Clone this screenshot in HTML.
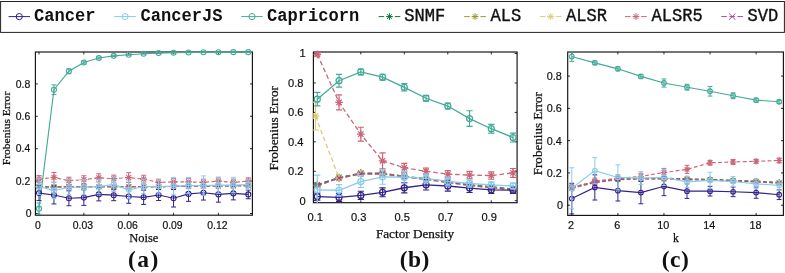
<!DOCTYPE html>
<html lang="en"><head><meta charset="utf-8"><title>Frobenius Error</title>
<style>html,body{margin:0;padding:0;background:#fff}svg{display:block}</style></head>
<body>
<svg width="785" height="273" viewBox="0 0 785 273">
<rect width="785" height="273" fill="#fff"/>
<rect x="0.6" y="1.5" width="783.8" height="30.9" fill="#fff" stroke="#222" stroke-width="1"/>
<path d="M8.5 16.6H30" stroke="#332288" stroke-width="1"/>
<circle cx="19.25" cy="16.6" r="3.1" fill="none" stroke="#332288" stroke-width="1.0"/>
<text transform="translate(34 21.3) scale(1 1.09)" font-family='"Liberation Mono","Courier New",monospace' font-size="17.1" font-weight="bold" fill="#111">Cancer</text>
<path d="M114.2 16.6H135.9" stroke="#88CCEE" stroke-width="1"/>
<circle cx="125.05" cy="16.6" r="3.1" fill="none" stroke="#88CCEE" stroke-width="1.0"/>
<text transform="translate(140.4 21.3) scale(1 1.09)" font-family='"Liberation Mono","Courier New",monospace' font-size="17.1" font-weight="bold" fill="#111">CancerJS</text>
<path d="M241.3 16.6H262.7" stroke="#44AA99" stroke-width="1"/>
<circle cx="252" cy="16.6" r="3.1" fill="none" stroke="#44AA99" stroke-width="1.0"/>
<text transform="translate(267 21.3) scale(1 1.09)" font-family='"Liberation Mono","Courier New",monospace' font-size="17.1" font-weight="bold" fill="#111">Capricorn</text>
<path d="M378.6 16.6H400.3" stroke="#117733" stroke-width="1" stroke-dasharray="5.5 2.6"/>
<path d="M386.05 16.6h6.8M389.45 13.2v6.8M387 14.15l4.9 4.9M387 19.05l4.9 -4.9" stroke="#117733" stroke-width="1.0" fill="none"/>
<text transform="translate(404.2 21.3) scale(1 1.09)" font-family='"Liberation Mono","Courier New",monospace' font-size="17.1" stroke="#111" stroke-width="0.35" fill="#111">SNMF</text>
<path d="M464.2 16.6H485.9" stroke="#999933" stroke-width="1" stroke-dasharray="5.5 2.6"/>
<path d="M471.65 16.6h6.8M475.05 13.2v6.8M472.6 14.15l4.9 4.9M472.6 19.05l4.9 -4.9" stroke="#999933" stroke-width="1.0" fill="none"/>
<text transform="translate(490.4 21.3) scale(1 1.09)" font-family='"Liberation Mono","Courier New",monospace' font-size="17.1" stroke="#111" stroke-width="0.35" fill="#111">ALS</text>
<path d="M539.9 16.6H561.5" stroke="#DDCC77" stroke-width="1" stroke-dasharray="5.5 2.6"/>
<path d="M547.3 16.6h6.8M550.7 13.2v6.8M548.25 14.15l4.9 4.9M548.25 19.05l4.9 -4.9" stroke="#DDCC77" stroke-width="1.0" fill="none"/>
<text transform="translate(566 21.3) scale(1 1.09)" font-family='"Liberation Mono","Courier New",monospace' font-size="17.1" stroke="#111" stroke-width="0.35" fill="#111">ALSR</text>
<path d="M625 16.6H646.9" stroke="#CC6677" stroke-width="1" stroke-dasharray="5.5 2.6"/>
<path d="M632.55 16.6h6.8M635.95 13.2v6.8M633.5 14.15l4.9 4.9M633.5 19.05l4.9 -4.9" stroke="#CC6677" stroke-width="1.0" fill="none"/>
<text transform="translate(651.4 21.3) scale(1 1.09)" font-family='"Liberation Mono","Courier New",monospace' font-size="17.1" stroke="#111" stroke-width="0.35" fill="#111">ALSR5</text>
<path d="M721.3 16.6H743.2" stroke="#AA4499" stroke-width="1" stroke-dasharray="5.5 2.6"/>
<path d="M729.12 13.47l6.26 6.26M729.12 19.73l6.26 -6.26" stroke="#AA4499" stroke-width="1.0" fill="none"/>
<text transform="translate(747.4 21.3) scale(1 1.09)" font-family='"Liberation Mono","Courier New",monospace' font-size="17.1" stroke="#111" stroke-width="0.35" fill="#111">SVD</text>
<clipPath id="c1"><rect x="31.4" y="46" width="225" height="169.8"/></clipPath>
<path d="M39 215.2v-2.4M39 52v2.4M83.85 215.2v-2.4M83.85 52v2.4M128.7 215.2v-2.4M128.7 52v2.4M173.55 215.2v-2.4M173.55 52v2.4M218.4 215.2v-2.4M218.4 52v2.4M35.4 213.5h2.4M252.4 213.5h-2.4M35.4 181.1h2.4M252.4 181.1h-2.4M35.4 148.7h2.4M252.4 148.7h-2.4M35.4 116.3h2.4M252.4 116.3h-2.4M35.4 83.9h2.4M252.4 83.9h-2.4" stroke="#111" stroke-width="0.9" fill="none"/>
<rect x="35.4" y="52" width="217" height="163.2" fill="none" stroke="#111" stroke-width="1.15"/>
<g clip-path="url(#c1)"><polyline points="39,186.77 53.95,186.93 68.9,186.93 83.85,186.77 98.8,186.77 113.75,186.77 128.7,186.77 143.65,186.61 158.6,186.61 173.55,186.45 188.5,186.28 203.45,186.12 218.4,185.96 233.35,185.8 248.3,185.64" fill="none" stroke="#117733" stroke-width="1.15" stroke-dasharray="3.8 2.4"/><path d="M39 185.96V187.58M36.5 185.96h5M36.5 187.58h5M53.95 186.12V187.74M51.45 186.12h5M51.45 187.74h5M68.9 186.12V187.74M66.4 186.12h5M66.4 187.74h5M83.85 185.96V187.58M81.35 185.96h5M81.35 187.58h5M98.8 185.96V187.58M96.3 185.96h5M96.3 187.58h5M113.75 185.96V187.58M111.25 185.96h5M111.25 187.58h5M128.7 185.96V187.58M126.2 185.96h5M126.2 187.58h5M143.65 185.8V187.42M141.15 185.8h5M141.15 187.42h5M158.6 185.8V187.42M156.1 185.8h5M156.1 187.42h5M173.55 185.64V187.26M171.05 185.64h5M171.05 187.26h5M188.5 185.47V187.09M186 185.47h5M186 187.09h5M203.45 185.31V186.93M200.95 185.31h5M200.95 186.93h5M218.4 185.15V186.77M215.9 185.15h5M215.9 186.77h5M233.35 184.99V186.61M230.85 184.99h5M230.85 186.61h5M248.3 184.83V186.45M245.8 184.83h5M245.8 186.45h5" stroke="#117733" stroke-width="1.0" fill="none"/><path d="M35.6 186.77h6.8M39 183.37v6.8M36.55 184.32l4.9 4.9M36.55 189.22l4.9 -4.9" stroke="#117733" stroke-width="1.1" fill="none"/><path d="M50.55 186.93h6.8M53.95 183.53v6.8M51.5 184.48l4.9 4.9M51.5 189.38l4.9 -4.9" stroke="#117733" stroke-width="1.1" fill="none"/><path d="M65.5 186.93h6.8M68.9 183.53v6.8M66.45 184.48l4.9 4.9M66.45 189.38l4.9 -4.9" stroke="#117733" stroke-width="1.1" fill="none"/><path d="M80.45 186.77h6.8M83.85 183.37v6.8M81.4 184.32l4.9 4.9M81.4 189.22l4.9 -4.9" stroke="#117733" stroke-width="1.1" fill="none"/><path d="M95.4 186.77h6.8M98.8 183.37v6.8M96.35 184.32l4.9 4.9M96.35 189.22l4.9 -4.9" stroke="#117733" stroke-width="1.1" fill="none"/><path d="M110.35 186.77h6.8M113.75 183.37v6.8M111.3 184.32l4.9 4.9M111.3 189.22l4.9 -4.9" stroke="#117733" stroke-width="1.1" fill="none"/><path d="M125.3 186.77h6.8M128.7 183.37v6.8M126.25 184.32l4.9 4.9M126.25 189.22l4.9 -4.9" stroke="#117733" stroke-width="1.1" fill="none"/><path d="M140.25 186.61h6.8M143.65 183.21v6.8M141.2 184.16l4.9 4.9M141.2 189.06l4.9 -4.9" stroke="#117733" stroke-width="1.1" fill="none"/><path d="M155.2 186.61h6.8M158.6 183.21v6.8M156.15 184.16l4.9 4.9M156.15 189.06l4.9 -4.9" stroke="#117733" stroke-width="1.1" fill="none"/><path d="M170.15 186.45h6.8M173.55 183.05v6.8M171.1 184l4.9 4.9M171.1 188.89l4.9 -4.9" stroke="#117733" stroke-width="1.1" fill="none"/><path d="M185.1 186.28h6.8M188.5 182.88v6.8M186.05 183.84l4.9 4.9M186.05 188.73l4.9 -4.9" stroke="#117733" stroke-width="1.1" fill="none"/><path d="M200.05 186.12h6.8M203.45 182.72v6.8M201 183.67l4.9 4.9M201 188.57l4.9 -4.9" stroke="#117733" stroke-width="1.1" fill="none"/><path d="M215 185.96h6.8M218.4 182.56v6.8M215.95 183.51l4.9 4.9M215.95 188.41l4.9 -4.9" stroke="#117733" stroke-width="1.1" fill="none"/><path d="M229.95 185.8h6.8M233.35 182.4v6.8M230.9 183.35l4.9 4.9M230.9 188.25l4.9 -4.9" stroke="#117733" stroke-width="1.1" fill="none"/><path d="M244.9 185.64h6.8M248.3 182.24v6.8M245.85 183.19l4.9 4.9M245.85 188.08l4.9 -4.9" stroke="#117733" stroke-width="1.1" fill="none"/></g>
<g clip-path="url(#c1)"><polyline points="39,186.77 53.95,186.93 68.9,186.93 83.85,186.77 98.8,186.77 113.75,186.77 128.7,186.77 143.65,186.61 158.6,186.61 173.55,186.45 188.5,186.28 203.45,186.12 218.4,185.96 233.35,185.8 248.3,185.64" fill="none" stroke="#999933" stroke-width="1.15" stroke-dasharray="3.8 2.4"/><path d="M39 185.96V187.58M36.5 185.96h5M36.5 187.58h5M53.95 186.12V187.74M51.45 186.12h5M51.45 187.74h5M68.9 186.12V187.74M66.4 186.12h5M66.4 187.74h5M83.85 185.96V187.58M81.35 185.96h5M81.35 187.58h5M98.8 185.96V187.58M96.3 185.96h5M96.3 187.58h5M113.75 185.96V187.58M111.25 185.96h5M111.25 187.58h5M128.7 185.96V187.58M126.2 185.96h5M126.2 187.58h5M143.65 185.8V187.42M141.15 185.8h5M141.15 187.42h5M158.6 185.8V187.42M156.1 185.8h5M156.1 187.42h5M173.55 185.64V187.26M171.05 185.64h5M171.05 187.26h5M188.5 185.47V187.09M186 185.47h5M186 187.09h5M203.45 185.31V186.93M200.95 185.31h5M200.95 186.93h5M218.4 185.15V186.77M215.9 185.15h5M215.9 186.77h5M233.35 184.99V186.61M230.85 184.99h5M230.85 186.61h5M248.3 184.83V186.45M245.8 184.83h5M245.8 186.45h5" stroke="#999933" stroke-width="1.0" fill="none"/><path d="M35.6 186.77h6.8M39 183.37v6.8M36.55 184.32l4.9 4.9M36.55 189.22l4.9 -4.9" stroke="#999933" stroke-width="1.1" fill="none"/><path d="M50.55 186.93h6.8M53.95 183.53v6.8M51.5 184.48l4.9 4.9M51.5 189.38l4.9 -4.9" stroke="#999933" stroke-width="1.1" fill="none"/><path d="M65.5 186.93h6.8M68.9 183.53v6.8M66.45 184.48l4.9 4.9M66.45 189.38l4.9 -4.9" stroke="#999933" stroke-width="1.1" fill="none"/><path d="M80.45 186.77h6.8M83.85 183.37v6.8M81.4 184.32l4.9 4.9M81.4 189.22l4.9 -4.9" stroke="#999933" stroke-width="1.1" fill="none"/><path d="M95.4 186.77h6.8M98.8 183.37v6.8M96.35 184.32l4.9 4.9M96.35 189.22l4.9 -4.9" stroke="#999933" stroke-width="1.1" fill="none"/><path d="M110.35 186.77h6.8M113.75 183.37v6.8M111.3 184.32l4.9 4.9M111.3 189.22l4.9 -4.9" stroke="#999933" stroke-width="1.1" fill="none"/><path d="M125.3 186.77h6.8M128.7 183.37v6.8M126.25 184.32l4.9 4.9M126.25 189.22l4.9 -4.9" stroke="#999933" stroke-width="1.1" fill="none"/><path d="M140.25 186.61h6.8M143.65 183.21v6.8M141.2 184.16l4.9 4.9M141.2 189.06l4.9 -4.9" stroke="#999933" stroke-width="1.1" fill="none"/><path d="M155.2 186.61h6.8M158.6 183.21v6.8M156.15 184.16l4.9 4.9M156.15 189.06l4.9 -4.9" stroke="#999933" stroke-width="1.1" fill="none"/><path d="M170.15 186.45h6.8M173.55 183.05v6.8M171.1 184l4.9 4.9M171.1 188.89l4.9 -4.9" stroke="#999933" stroke-width="1.1" fill="none"/><path d="M185.1 186.28h6.8M188.5 182.88v6.8M186.05 183.84l4.9 4.9M186.05 188.73l4.9 -4.9" stroke="#999933" stroke-width="1.1" fill="none"/><path d="M200.05 186.12h6.8M203.45 182.72v6.8M201 183.67l4.9 4.9M201 188.57l4.9 -4.9" stroke="#999933" stroke-width="1.1" fill="none"/><path d="M215 185.96h6.8M218.4 182.56v6.8M215.95 183.51l4.9 4.9M215.95 188.41l4.9 -4.9" stroke="#999933" stroke-width="1.1" fill="none"/><path d="M229.95 185.8h6.8M233.35 182.4v6.8M230.9 183.35l4.9 4.9M230.9 188.25l4.9 -4.9" stroke="#999933" stroke-width="1.1" fill="none"/><path d="M244.9 185.64h6.8M248.3 182.24v6.8M245.85 183.19l4.9 4.9M245.85 188.08l4.9 -4.9" stroke="#999933" stroke-width="1.1" fill="none"/></g>
<g clip-path="url(#c1)"><polyline points="39,186.77 53.95,186.93 68.9,186.93 83.85,186.77 98.8,186.77 113.75,186.77 128.7,186.77 143.65,186.61 158.6,186.61 173.55,186.45 188.5,186.28 203.45,186.12 218.4,185.96 233.35,185.8 248.3,185.64" fill="none" stroke="#DDCC77" stroke-width="1.15" stroke-dasharray="3.8 2.4"/><path d="M39 185.96V187.58M36.5 185.96h5M36.5 187.58h5M53.95 186.12V187.74M51.45 186.12h5M51.45 187.74h5M68.9 186.12V187.74M66.4 186.12h5M66.4 187.74h5M83.85 185.96V187.58M81.35 185.96h5M81.35 187.58h5M98.8 185.96V187.58M96.3 185.96h5M96.3 187.58h5M113.75 185.96V187.58M111.25 185.96h5M111.25 187.58h5M128.7 185.96V187.58M126.2 185.96h5M126.2 187.58h5M143.65 185.8V187.42M141.15 185.8h5M141.15 187.42h5M158.6 185.8V187.42M156.1 185.8h5M156.1 187.42h5M173.55 185.64V187.26M171.05 185.64h5M171.05 187.26h5M188.5 185.47V187.09M186 185.47h5M186 187.09h5M203.45 185.31V186.93M200.95 185.31h5M200.95 186.93h5M218.4 185.15V186.77M215.9 185.15h5M215.9 186.77h5M233.35 184.99V186.61M230.85 184.99h5M230.85 186.61h5M248.3 184.83V186.45M245.8 184.83h5M245.8 186.45h5" stroke="#DDCC77" stroke-width="1.0" fill="none"/><path d="M35.6 186.77h6.8M39 183.37v6.8M36.55 184.32l4.9 4.9M36.55 189.22l4.9 -4.9" stroke="#DDCC77" stroke-width="1.1" fill="none"/><path d="M50.55 186.93h6.8M53.95 183.53v6.8M51.5 184.48l4.9 4.9M51.5 189.38l4.9 -4.9" stroke="#DDCC77" stroke-width="1.1" fill="none"/><path d="M65.5 186.93h6.8M68.9 183.53v6.8M66.45 184.48l4.9 4.9M66.45 189.38l4.9 -4.9" stroke="#DDCC77" stroke-width="1.1" fill="none"/><path d="M80.45 186.77h6.8M83.85 183.37v6.8M81.4 184.32l4.9 4.9M81.4 189.22l4.9 -4.9" stroke="#DDCC77" stroke-width="1.1" fill="none"/><path d="M95.4 186.77h6.8M98.8 183.37v6.8M96.35 184.32l4.9 4.9M96.35 189.22l4.9 -4.9" stroke="#DDCC77" stroke-width="1.1" fill="none"/><path d="M110.35 186.77h6.8M113.75 183.37v6.8M111.3 184.32l4.9 4.9M111.3 189.22l4.9 -4.9" stroke="#DDCC77" stroke-width="1.1" fill="none"/><path d="M125.3 186.77h6.8M128.7 183.37v6.8M126.25 184.32l4.9 4.9M126.25 189.22l4.9 -4.9" stroke="#DDCC77" stroke-width="1.1" fill="none"/><path d="M140.25 186.61h6.8M143.65 183.21v6.8M141.2 184.16l4.9 4.9M141.2 189.06l4.9 -4.9" stroke="#DDCC77" stroke-width="1.1" fill="none"/><path d="M155.2 186.61h6.8M158.6 183.21v6.8M156.15 184.16l4.9 4.9M156.15 189.06l4.9 -4.9" stroke="#DDCC77" stroke-width="1.1" fill="none"/><path d="M170.15 186.45h6.8M173.55 183.05v6.8M171.1 184l4.9 4.9M171.1 188.89l4.9 -4.9" stroke="#DDCC77" stroke-width="1.1" fill="none"/><path d="M185.1 186.28h6.8M188.5 182.88v6.8M186.05 183.84l4.9 4.9M186.05 188.73l4.9 -4.9" stroke="#DDCC77" stroke-width="1.1" fill="none"/><path d="M200.05 186.12h6.8M203.45 182.72v6.8M201 183.67l4.9 4.9M201 188.57l4.9 -4.9" stroke="#DDCC77" stroke-width="1.1" fill="none"/><path d="M215 185.96h6.8M218.4 182.56v6.8M215.95 183.51l4.9 4.9M215.95 188.41l4.9 -4.9" stroke="#DDCC77" stroke-width="1.1" fill="none"/><path d="M229.95 185.8h6.8M233.35 182.4v6.8M230.9 183.35l4.9 4.9M230.9 188.25l4.9 -4.9" stroke="#DDCC77" stroke-width="1.1" fill="none"/><path d="M244.9 185.64h6.8M248.3 182.24v6.8M245.85 183.19l4.9 4.9M245.85 188.08l4.9 -4.9" stroke="#DDCC77" stroke-width="1.1" fill="none"/></g>
<g clip-path="url(#c1)"><polyline points="39,179.16 53.95,177.37 68.9,180.78 83.85,179.64 98.8,177.86 113.75,178.67 128.7,177.54 143.65,179.16 158.6,182.4 173.55,181.91 188.5,181.91 203.45,182.4 218.4,181.1 233.35,182.4 248.3,181.1" fill="none" stroke="#CC6677" stroke-width="1.15" stroke-dasharray="3.8 2.4"/><path d="M39 175.59V182.72M36.5 175.59h5M36.5 182.72h5M53.95 172.51V182.23M51.45 172.51h5M51.45 182.23h5M68.9 177.21V184.34M66.4 177.21h5M66.4 184.34h5M83.85 175.75V183.53M81.35 175.75h5M81.35 183.53h5M98.8 173.81V181.91M96.3 173.81h5M96.3 181.91h5M113.75 175.11V182.23M111.25 175.11h5M111.25 182.23h5M128.7 172.68V182.4M126.2 172.68h5M126.2 182.4h5M143.65 175.27V183.04M141.15 175.27h5M141.15 183.04h5M158.6 179.16V185.64M156.1 179.16h5M156.1 185.64h5M173.55 178.67V185.15M171.05 178.67h5M171.05 185.15h5M188.5 178.67V185.15M186 178.67h5M186 185.15h5M203.45 179.16V185.64M200.95 179.16h5M200.95 185.64h5M218.4 177.86V184.34M215.9 177.86h5M215.9 184.34h5M233.35 179.16V185.64M230.85 179.16h5M230.85 185.64h5M248.3 177.86V184.34M245.8 177.86h5M245.8 184.34h5" stroke="#CC6677" stroke-width="1.0" fill="none"/><path d="M35.6 179.16h6.8M39 175.76v6.8M36.55 176.71l4.9 4.9M36.55 181.6l4.9 -4.9" stroke="#CC6677" stroke-width="1.1" fill="none"/><path d="M50.55 177.37h6.8M53.95 173.97v6.8M51.5 174.93l4.9 4.9M51.5 179.82l4.9 -4.9" stroke="#CC6677" stroke-width="1.1" fill="none"/><path d="M65.5 180.78h6.8M68.9 177.38v6.8M66.45 178.33l4.9 4.9M66.45 183.22l4.9 -4.9" stroke="#CC6677" stroke-width="1.1" fill="none"/><path d="M80.45 179.64h6.8M83.85 176.24v6.8M81.4 177.19l4.9 4.9M81.4 182.09l4.9 -4.9" stroke="#CC6677" stroke-width="1.1" fill="none"/><path d="M95.4 177.86h6.8M98.8 174.46v6.8M96.35 175.41l4.9 4.9M96.35 180.31l4.9 -4.9" stroke="#CC6677" stroke-width="1.1" fill="none"/><path d="M110.35 178.67h6.8M113.75 175.27v6.8M111.3 176.22l4.9 4.9M111.3 181.12l4.9 -4.9" stroke="#CC6677" stroke-width="1.1" fill="none"/><path d="M125.3 177.54h6.8M128.7 174.14v6.8M126.25 175.09l4.9 4.9M126.25 179.98l4.9 -4.9" stroke="#CC6677" stroke-width="1.1" fill="none"/><path d="M140.25 179.16h6.8M143.65 175.76v6.8M141.2 176.71l4.9 4.9M141.2 181.6l4.9 -4.9" stroke="#CC6677" stroke-width="1.1" fill="none"/><path d="M155.2 182.4h6.8M158.6 179v6.8M156.15 179.95l4.9 4.9M156.15 184.84l4.9 -4.9" stroke="#CC6677" stroke-width="1.1" fill="none"/><path d="M170.15 181.91h6.8M173.55 178.51v6.8M171.1 179.46l4.9 4.9M171.1 184.36l4.9 -4.9" stroke="#CC6677" stroke-width="1.1" fill="none"/><path d="M185.1 181.91h6.8M188.5 178.51v6.8M186.05 179.46l4.9 4.9M186.05 184.36l4.9 -4.9" stroke="#CC6677" stroke-width="1.1" fill="none"/><path d="M200.05 182.4h6.8M203.45 179v6.8M201 179.95l4.9 4.9M201 184.84l4.9 -4.9" stroke="#CC6677" stroke-width="1.1" fill="none"/><path d="M215 181.1h6.8M218.4 177.7v6.8M215.95 178.65l4.9 4.9M215.95 183.55l4.9 -4.9" stroke="#CC6677" stroke-width="1.1" fill="none"/><path d="M229.95 182.4h6.8M233.35 179v6.8M230.9 179.95l4.9 4.9M230.9 184.84l4.9 -4.9" stroke="#CC6677" stroke-width="1.1" fill="none"/><path d="M244.9 181.1h6.8M248.3 177.7v6.8M245.85 178.65l4.9 4.9M245.85 183.55l4.9 -4.9" stroke="#CC6677" stroke-width="1.1" fill="none"/></g>
<g clip-path="url(#c1)"><polyline points="39,186.77 53.95,186.93 68.9,186.93 83.85,186.77 98.8,186.77 113.75,186.77 128.7,186.77 143.65,186.61 158.6,186.61 173.55,186.45 188.5,186.28 203.45,186.12 218.4,185.96 233.35,185.8 248.3,185.64" fill="none" stroke="#AA4499" stroke-width="1.15" stroke-dasharray="3.8 2.4"/><path d="M36.89 184.66l4.22 4.22M36.89 188.88l4.22 -4.22" stroke="#AA4499" stroke-width="1.1" fill="none"/><path d="M51.84 184.82l4.22 4.22M51.84 189.04l4.22 -4.22" stroke="#AA4499" stroke-width="1.1" fill="none"/><path d="M66.79 184.82l4.22 4.22M66.79 189.04l4.22 -4.22" stroke="#AA4499" stroke-width="1.1" fill="none"/><path d="M81.74 184.66l4.22 4.22M81.74 188.88l4.22 -4.22" stroke="#AA4499" stroke-width="1.1" fill="none"/><path d="M96.69 184.66l4.22 4.22M96.69 188.88l4.22 -4.22" stroke="#AA4499" stroke-width="1.1" fill="none"/><path d="M111.64 184.66l4.22 4.22M111.64 188.88l4.22 -4.22" stroke="#AA4499" stroke-width="1.1" fill="none"/><path d="M126.59 184.66l4.22 4.22M126.59 188.88l4.22 -4.22" stroke="#AA4499" stroke-width="1.1" fill="none"/><path d="M141.54 184.5l4.22 4.22M141.54 188.72l4.22 -4.22" stroke="#AA4499" stroke-width="1.1" fill="none"/><path d="M156.49 184.5l4.22 4.22M156.49 188.72l4.22 -4.22" stroke="#AA4499" stroke-width="1.1" fill="none"/><path d="M171.44 184.34l4.22 4.22M171.44 188.55l4.22 -4.22" stroke="#AA4499" stroke-width="1.1" fill="none"/><path d="M186.39 184.18l4.22 4.22M186.39 188.39l4.22 -4.22" stroke="#AA4499" stroke-width="1.1" fill="none"/><path d="M201.34 184.01l4.22 4.22M201.34 188.23l4.22 -4.22" stroke="#AA4499" stroke-width="1.1" fill="none"/><path d="M216.29 183.85l4.22 4.22M216.29 188.07l4.22 -4.22" stroke="#AA4499" stroke-width="1.1" fill="none"/><path d="M231.24 183.69l4.22 4.22M231.24 187.91l4.22 -4.22" stroke="#AA4499" stroke-width="1.1" fill="none"/><path d="M246.19 183.53l4.22 4.22M246.19 187.74l4.22 -4.22" stroke="#AA4499" stroke-width="1.1" fill="none"/></g>
<g clip-path="url(#c1)"><polyline points="39,208.64 53.95,89.73 68.9,71.26 83.85,62.52 98.8,57.98 113.75,55.87 128.7,54.74 143.65,53.77 158.6,53.12 173.55,52.8 188.5,52.47 203.45,52.31 218.4,52.31 233.35,52.15 248.3,52.15" fill="none" stroke="#44AA99" stroke-width="1.15"/><path d="M39 202.97V214.31M36.5 202.97h5M36.5 214.31h5M53.95 84.87V94.59M51.45 84.87h5M51.45 94.59h5M68.9 68.83V73.69M66.4 68.83h5M66.4 73.69h5M83.85 61.06V63.97M81.35 61.06h5M81.35 63.97h5M98.8 57.01V58.95M96.3 57.01h5M96.3 58.95h5M113.75 55.23V56.52M111.25 55.23h5M111.25 56.52h5M128.7 54.25V55.23M126.2 54.25h5M126.2 55.23h5M143.65 53.44V54.09M141.15 53.44h5M141.15 54.09h5M158.6 52.8V53.44M156.1 52.8h5M156.1 53.44h5M173.55 52.47V53.12M171.05 52.47h5M171.05 53.12h5M188.5 52.15V52.8M186 52.15h5M186 52.8h5M203.45 51.99V52.63M200.95 51.99h5M200.95 52.63h5M218.4 51.99V52.63M215.9 51.99h5M215.9 52.63h5M233.35 51.82V52.47M230.85 51.82h5M230.85 52.47h5M248.3 51.82V52.47M245.8 51.82h5M245.8 52.47h5" stroke="#44AA99" stroke-width="1.0" fill="none"/><circle cx="39" cy="208.64" r="2.5" fill="none" stroke="#44AA99" stroke-width="1.1"/><circle cx="53.95" cy="89.73" r="2.5" fill="none" stroke="#44AA99" stroke-width="1.1"/><circle cx="68.9" cy="71.26" r="2.5" fill="none" stroke="#44AA99" stroke-width="1.1"/><circle cx="83.85" cy="62.52" r="2.5" fill="none" stroke="#44AA99" stroke-width="1.1"/><circle cx="98.8" cy="57.98" r="2.5" fill="none" stroke="#44AA99" stroke-width="1.1"/><circle cx="113.75" cy="55.87" r="2.5" fill="none" stroke="#44AA99" stroke-width="1.1"/><circle cx="128.7" cy="54.74" r="2.5" fill="none" stroke="#44AA99" stroke-width="1.1"/><circle cx="143.65" cy="53.77" r="2.5" fill="none" stroke="#44AA99" stroke-width="1.1"/><circle cx="158.6" cy="53.12" r="2.5" fill="none" stroke="#44AA99" stroke-width="1.1"/><circle cx="173.55" cy="52.8" r="2.5" fill="none" stroke="#44AA99" stroke-width="1.1"/><circle cx="188.5" cy="52.47" r="2.5" fill="none" stroke="#44AA99" stroke-width="1.1"/><circle cx="203.45" cy="52.31" r="2.5" fill="none" stroke="#44AA99" stroke-width="1.1"/><circle cx="218.4" cy="52.31" r="2.5" fill="none" stroke="#44AA99" stroke-width="1.1"/><circle cx="233.35" cy="52.15" r="2.5" fill="none" stroke="#44AA99" stroke-width="1.1"/><circle cx="248.3" cy="52.15" r="2.5" fill="none" stroke="#44AA99" stroke-width="1.1"/></g>
<g clip-path="url(#c1)"><polyline points="39,193.09 53.95,195.03 68.9,198.27 83.85,197.62 98.8,194.38 113.75,195.19 128.7,196.49 143.65,197.3 158.6,195.03 173.55,198.27 188.5,193.9 203.45,192.76 218.4,194.38 233.35,193.41 248.3,194.38" fill="none" stroke="#332288" stroke-width="1.15"/><path d="M39 185.64V200.54M36.5 185.64h5M36.5 200.54h5M53.95 186.12V203.94M51.45 186.12h5M51.45 203.94h5M68.9 190.82V205.72M66.4 190.82h5M66.4 205.72h5M83.85 189.85V205.4M81.35 189.85h5M81.35 205.4h5M98.8 187.9V200.86M96.3 187.9h5M96.3 200.86h5M113.75 189.69V200.7M111.25 189.69h5M111.25 200.7h5M128.7 189.69V203.29M126.2 189.69h5M126.2 203.29h5M143.65 190.17V204.43M141.15 190.17h5M141.15 204.43h5M158.6 189.52V200.54M156.1 189.52h5M156.1 200.54h5M173.55 189.52V207.02M171.05 189.52h5M171.05 207.02h5M188.5 186.45V201.35M186 186.45h5M186 201.35h5M203.45 185.47V200.05M200.95 185.47h5M200.95 200.05h5M218.4 186.61V202.16M215.9 186.61h5M215.9 202.16h5M233.35 186.93V199.89M230.85 186.93h5M230.85 199.89h5M248.3 190.01V198.76M245.8 190.01h5M245.8 198.76h5" stroke="#332288" stroke-width="1.0" fill="none"/><circle cx="39" cy="193.09" r="2.5" fill="none" stroke="#332288" stroke-width="1.1"/><circle cx="53.95" cy="195.03" r="2.5" fill="none" stroke="#332288" stroke-width="1.1"/><circle cx="68.9" cy="198.27" r="2.5" fill="none" stroke="#332288" stroke-width="1.1"/><circle cx="83.85" cy="197.62" r="2.5" fill="none" stroke="#332288" stroke-width="1.1"/><circle cx="98.8" cy="194.38" r="2.5" fill="none" stroke="#332288" stroke-width="1.1"/><circle cx="113.75" cy="195.19" r="2.5" fill="none" stroke="#332288" stroke-width="1.1"/><circle cx="128.7" cy="196.49" r="2.5" fill="none" stroke="#332288" stroke-width="1.1"/><circle cx="143.65" cy="197.3" r="2.5" fill="none" stroke="#332288" stroke-width="1.1"/><circle cx="158.6" cy="195.03" r="2.5" fill="none" stroke="#332288" stroke-width="1.1"/><circle cx="173.55" cy="198.27" r="2.5" fill="none" stroke="#332288" stroke-width="1.1"/><circle cx="188.5" cy="193.9" r="2.5" fill="none" stroke="#332288" stroke-width="1.1"/><circle cx="203.45" cy="192.76" r="2.5" fill="none" stroke="#332288" stroke-width="1.1"/><circle cx="218.4" cy="194.38" r="2.5" fill="none" stroke="#332288" stroke-width="1.1"/><circle cx="233.35" cy="193.41" r="2.5" fill="none" stroke="#332288" stroke-width="1.1"/><circle cx="248.3" cy="194.38" r="2.5" fill="none" stroke="#332288" stroke-width="1.1"/></g>
<g clip-path="url(#c1)"><polyline points="39,186.45 53.95,190.66 68.9,187.26 83.85,187.26 98.8,186.61 113.75,184.34 128.7,189.85 143.65,186.45 158.6,186.45 173.55,186.12 188.5,185.64 203.45,185.64 218.4,185.15 233.35,185.15 248.3,184.66" fill="none" stroke="#88CCEE" stroke-width="1.15"/><path d="M39 178.35V194.55M36.5 178.35h5M36.5 194.55h5M53.95 182.56V198.76M51.45 182.56h5M51.45 198.76h5M68.9 179.8V194.71M66.4 179.8h5M66.4 194.71h5M83.85 179.64V194.87M81.35 179.64h5M81.35 194.87h5M98.8 179.32V193.9M96.3 179.32h5M96.3 193.9h5M113.75 177.05V191.63M111.25 177.05h5M111.25 191.63h5M128.7 180.94V198.76M126.2 180.94h5M126.2 198.76h5M143.65 179.16V193.74M141.15 179.16h5M141.15 193.74h5M158.6 179.97V192.93M156.1 179.97h5M156.1 192.93h5M173.55 177.37V194.87M171.05 177.37h5M171.05 194.87h5M188.5 177.54V193.74M186 177.54h5M186 193.74h5M203.45 175.92V195.36M200.95 175.92h5M200.95 195.36h5M218.4 177.05V193.25M215.9 177.05h5M215.9 193.25h5M233.35 177.37V192.93M230.85 177.37h5M230.85 192.93h5M248.3 179.8V189.52M245.8 179.8h5M245.8 189.52h5" stroke="#88CCEE" stroke-width="1.0" fill="none"/><circle cx="39" cy="186.45" r="2.5" fill="none" stroke="#88CCEE" stroke-width="1.1"/><circle cx="53.95" cy="190.66" r="2.5" fill="none" stroke="#88CCEE" stroke-width="1.1"/><circle cx="68.9" cy="187.26" r="2.5" fill="none" stroke="#88CCEE" stroke-width="1.1"/><circle cx="83.85" cy="187.26" r="2.5" fill="none" stroke="#88CCEE" stroke-width="1.1"/><circle cx="98.8" cy="186.61" r="2.5" fill="none" stroke="#88CCEE" stroke-width="1.1"/><circle cx="113.75" cy="184.34" r="2.5" fill="none" stroke="#88CCEE" stroke-width="1.1"/><circle cx="128.7" cy="189.85" r="2.5" fill="none" stroke="#88CCEE" stroke-width="1.1"/><circle cx="143.65" cy="186.45" r="2.5" fill="none" stroke="#88CCEE" stroke-width="1.1"/><circle cx="158.6" cy="186.45" r="2.5" fill="none" stroke="#88CCEE" stroke-width="1.1"/><circle cx="173.55" cy="186.12" r="2.5" fill="none" stroke="#88CCEE" stroke-width="1.1"/><circle cx="188.5" cy="185.64" r="2.5" fill="none" stroke="#88CCEE" stroke-width="1.1"/><circle cx="203.45" cy="185.64" r="2.5" fill="none" stroke="#88CCEE" stroke-width="1.1"/><circle cx="218.4" cy="185.15" r="2.5" fill="none" stroke="#88CCEE" stroke-width="1.1"/><circle cx="233.35" cy="185.15" r="2.5" fill="none" stroke="#88CCEE" stroke-width="1.1"/><circle cx="248.3" cy="184.66" r="2.5" fill="none" stroke="#88CCEE" stroke-width="1.1"/></g>
<text x="38" y="228.5" text-anchor="middle" font-family='"Liberation Sans",Arial,Helvetica,sans-serif' font-size="10.4" fill="#111" stroke="#111" stroke-width="0.2">0</text>
<text x="82.85" y="228.5" text-anchor="middle" font-family='"Liberation Sans",Arial,Helvetica,sans-serif' font-size="10.4" fill="#111" stroke="#111" stroke-width="0.2">0.03</text>
<text x="127.7" y="228.5" text-anchor="middle" font-family='"Liberation Sans",Arial,Helvetica,sans-serif' font-size="10.4" fill="#111" stroke="#111" stroke-width="0.2">0.06</text>
<text x="172.55" y="228.5" text-anchor="middle" font-family='"Liberation Sans",Arial,Helvetica,sans-serif' font-size="10.4" fill="#111" stroke="#111" stroke-width="0.2">0.09</text>
<text x="217.4" y="228.5" text-anchor="middle" font-family='"Liberation Sans",Arial,Helvetica,sans-serif' font-size="10.4" fill="#111" stroke="#111" stroke-width="0.2">0.12</text>
<text x="31.5" y="217.22" text-anchor="end" font-family='"Liberation Sans",Arial,Helvetica,sans-serif' font-size="10.4" fill="#111" stroke="#111" stroke-width="0.2">0</text>
<text x="30.2" y="184.82" text-anchor="end" font-family='"Liberation Sans",Arial,Helvetica,sans-serif' font-size="10.4" fill="#111" stroke="#111" stroke-width="0.2">0.2</text>
<text x="30.2" y="152.42" text-anchor="end" font-family='"Liberation Sans",Arial,Helvetica,sans-serif' font-size="10.4" fill="#111" stroke="#111" stroke-width="0.2">0.4</text>
<text x="30.2" y="120.02" text-anchor="end" font-family='"Liberation Sans",Arial,Helvetica,sans-serif' font-size="10.4" fill="#111" stroke="#111" stroke-width="0.2">0.6</text>
<text x="30.2" y="87.62" text-anchor="end" font-family='"Liberation Sans",Arial,Helvetica,sans-serif' font-size="10.4" fill="#111" stroke="#111" stroke-width="0.2">0.8</text>
<text x="143.8" y="241.8" text-anchor="middle" font-family='"Liberation Serif","Times New Roman",serif' font-size="12.2" textLength="29.3" lengthAdjust="spacingAndGlyphs" fill="#111" stroke="#111" stroke-width="0.25">Noise</text>
<text transform="translate(9.8 128.5) rotate(-90)" text-anchor="middle" font-family='"Liberation Serif","Times New Roman",serif' font-size="10.8" textLength="73.5" lengthAdjust="spacingAndGlyphs" fill="#111" stroke="#111" stroke-width="0.25">Frobenius Error</text>
<text x="143.9" y="267.3" text-anchor="middle" font-family='"Liberation Serif","Times New Roman",serif' font-size="23.5" font-weight="bold" letter-spacing="1.4" fill="#111">(a)</text>
<clipPath id="c2"><rect x="309.4" y="46" width="211.7" height="157.3"/></clipPath>
<path d="M317.3 202.7v-2.4M317.3 52v2.4M360.8 202.7v-2.4M360.8 52v2.4M404.3 202.7v-2.4M404.3 52v2.4M447.8 202.7v-2.4M447.8 52v2.4M491.3 202.7v-2.4M491.3 52v2.4M313.4 200.7h2.4M517.1 200.7h-2.4M313.4 171.26h2.4M517.1 171.26h-2.4M313.4 141.82h2.4M517.1 141.82h-2.4M313.4 112.38h2.4M517.1 112.38h-2.4M313.4 82.94h2.4M517.1 82.94h-2.4M313.4 53.5h2.4M517.1 53.5h-2.4" stroke="#111" stroke-width="0.9" fill="none"/>
<rect x="313.4" y="52" width="203.7" height="150.7" fill="none" stroke="#111" stroke-width="1.15"/>
<g clip-path="url(#c2)"><polyline points="317.3,184.8 339.05,177.44 360.8,173.17 382.55,173.17 404.3,176.26 426.05,178.62 447.8,181.71 469.55,184.66 491.3,186.86 513.05,189.07" fill="none" stroke="#117733" stroke-width="1.3" stroke-dasharray="4.6 2.8"/><path d="M317.3 183.92V185.69M314.2 183.92h6.2M314.2 185.69h6.2M339.05 176.56V178.33M335.95 176.56h6.2M335.95 178.33h6.2M360.8 172.29V174.06M357.7 172.29h6.2M357.7 174.06h6.2M382.55 172.29V174.06M379.45 172.29h6.2M379.45 174.06h6.2M404.3 175.38V177.15M401.2 175.38h6.2M401.2 177.15h6.2M426.05 177.74V179.5M422.95 177.74h6.2M422.95 179.5h6.2M447.8 180.83V182.59M444.7 180.83h6.2M444.7 182.59h6.2M469.55 183.77V185.54M466.45 183.77h6.2M466.45 185.54h6.2M491.3 185.98V187.75M488.2 185.98h6.2M488.2 187.75h6.2M513.05 188.19V189.95M509.95 188.19h6.2M509.95 189.95h6.2" stroke="#117733" stroke-width="1.15" fill="none"/><path d="M313.5 184.8h7.6M317.3 181v7.6M314.56 182.07l5.47 5.47M314.56 187.54l5.47 -5.47" stroke="#117733" stroke-width="1.25" fill="none"/><path d="M335.25 177.44h7.6M339.05 173.64v7.6M336.31 174.71l5.47 5.47M336.31 180.18l5.47 -5.47" stroke="#117733" stroke-width="1.25" fill="none"/><path d="M357 173.17h7.6M360.8 169.37v7.6M358.06 170.44l5.47 5.47M358.06 175.91l5.47 -5.47" stroke="#117733" stroke-width="1.25" fill="none"/><path d="M378.75 173.17h7.6M382.55 169.37v7.6M379.81 170.44l5.47 5.47M379.81 175.91l5.47 -5.47" stroke="#117733" stroke-width="1.25" fill="none"/><path d="M400.5 176.26h7.6M404.3 172.46v7.6M401.56 173.53l5.47 5.47M401.56 179l5.47 -5.47" stroke="#117733" stroke-width="1.25" fill="none"/><path d="M422.25 178.62h7.6M426.05 174.82v7.6M423.31 175.88l5.47 5.47M423.31 181.36l5.47 -5.47" stroke="#117733" stroke-width="1.25" fill="none"/><path d="M444 181.71h7.6M447.8 177.91v7.6M445.06 178.98l5.47 5.47M445.06 184.45l5.47 -5.47" stroke="#117733" stroke-width="1.25" fill="none"/><path d="M465.75 184.66h7.6M469.55 180.86v7.6M466.81 181.92l5.47 5.47M466.81 187.39l5.47 -5.47" stroke="#117733" stroke-width="1.25" fill="none"/><path d="M487.5 186.86h7.6M491.3 183.06v7.6M488.56 184.13l5.47 5.47M488.56 189.6l5.47 -5.47" stroke="#117733" stroke-width="1.25" fill="none"/><path d="M509.25 189.07h7.6M513.05 185.27v7.6M510.31 186.34l5.47 5.47M510.31 191.81l5.47 -5.47" stroke="#117733" stroke-width="1.25" fill="none"/></g>
<g clip-path="url(#c2)"><polyline points="317.3,185.69 339.05,178.33 360.8,174.06 382.55,174.06 404.3,177.15 426.05,179.5 447.8,182.59 469.55,185.54 491.3,187.75 513.05,189.95" fill="none" stroke="#999933" stroke-width="1.3" stroke-dasharray="4.6 2.8"/><path d="M317.3 184.8V186.57M314.2 184.8h6.2M314.2 186.57h6.2M339.05 177.44V179.21M335.95 177.44h6.2M335.95 179.21h6.2M360.8 173.17V174.94M357.7 173.17h6.2M357.7 174.94h6.2M382.55 173.17V174.94M379.45 173.17h6.2M379.45 174.94h6.2M404.3 176.26V178.03M401.2 176.26h6.2M401.2 178.03h6.2M426.05 178.62V180.39M422.95 178.62h6.2M422.95 180.39h6.2M447.8 181.71V183.48M444.7 181.71h6.2M444.7 183.48h6.2M469.55 184.66V186.42M466.45 184.66h6.2M466.45 186.42h6.2M491.3 186.86V188.63M488.2 186.86h6.2M488.2 188.63h6.2M513.05 189.07V190.84M509.95 189.07h6.2M509.95 190.84h6.2" stroke="#999933" stroke-width="1.15" fill="none"/><path d="M313.5 185.69h7.6M317.3 181.89v7.6M314.56 182.95l5.47 5.47M314.56 188.42l5.47 -5.47" stroke="#999933" stroke-width="1.25" fill="none"/><path d="M335.25 178.33h7.6M339.05 174.53v7.6M336.31 175.59l5.47 5.47M336.31 181.06l5.47 -5.47" stroke="#999933" stroke-width="1.25" fill="none"/><path d="M357 174.06h7.6M360.8 170.26v7.6M358.06 171.32l5.47 5.47M358.06 176.79l5.47 -5.47" stroke="#999933" stroke-width="1.25" fill="none"/><path d="M378.75 174.06h7.6M382.55 170.26v7.6M379.81 171.32l5.47 5.47M379.81 176.79l5.47 -5.47" stroke="#999933" stroke-width="1.25" fill="none"/><path d="M400.5 177.15h7.6M404.3 173.35v7.6M401.56 174.41l5.47 5.47M401.56 179.88l5.47 -5.47" stroke="#999933" stroke-width="1.25" fill="none"/><path d="M422.25 179.5h7.6M426.05 175.7v7.6M423.31 176.77l5.47 5.47M423.31 182.24l5.47 -5.47" stroke="#999933" stroke-width="1.25" fill="none"/><path d="M444 182.59h7.6M447.8 178.79v7.6M445.06 179.86l5.47 5.47M445.06 185.33l5.47 -5.47" stroke="#999933" stroke-width="1.25" fill="none"/><path d="M465.75 185.54h7.6M469.55 181.74v7.6M466.81 182.8l5.47 5.47M466.81 188.27l5.47 -5.47" stroke="#999933" stroke-width="1.25" fill="none"/><path d="M487.5 187.75h7.6M491.3 183.95v7.6M488.56 185.01l5.47 5.47M488.56 190.48l5.47 -5.47" stroke="#999933" stroke-width="1.25" fill="none"/><path d="M509.25 189.95h7.6M513.05 186.15v7.6M510.31 187.22l5.47 5.47M510.31 192.69l5.47 -5.47" stroke="#999933" stroke-width="1.25" fill="none"/></g>
<g clip-path="url(#c2)"><polyline points="315.56,116.06 339.05,178.03 360.8,173.76 382.55,173.76 404.3,176.85 426.05,179.21 447.8,182.3 469.55,185.24 491.3,187.45 513.05,189.66" fill="none" stroke="#DDCC77" stroke-width="1.3" stroke-dasharray="4.6 2.8"/><path d="M315.56 102.08V130.04M312.46 102.08h6.2M312.46 130.04h6.2M339.05 176.56V179.5M335.95 176.56h6.2M335.95 179.5h6.2M360.8 172.29V175.23M357.7 172.29h6.2M357.7 175.23h6.2M382.55 172.29V175.23M379.45 172.29h6.2M379.45 175.23h6.2M404.3 175.38V178.33M401.2 175.38h6.2M401.2 178.33h6.2M426.05 177.74V180.68M422.95 177.74h6.2M422.95 180.68h6.2M447.8 180.83V183.77M444.7 180.83h6.2M444.7 183.77h6.2M469.55 183.77V186.72M466.45 183.77h6.2M466.45 186.72h6.2M491.3 185.98V188.92M488.2 185.98h6.2M488.2 188.92h6.2M513.05 188.19V191.13M509.95 188.19h6.2M509.95 191.13h6.2" stroke="#DDCC77" stroke-width="1.15" fill="none"/><path d="M311.76 116.06h7.6M315.56 112.26v7.6M312.82 113.32l5.47 5.47M312.82 118.8l5.47 -5.47" stroke="#DDCC77" stroke-width="1.25" fill="none"/><path d="M335.25 178.03h7.6M339.05 174.23v7.6M336.31 175.3l5.47 5.47M336.31 180.77l5.47 -5.47" stroke="#DDCC77" stroke-width="1.25" fill="none"/><path d="M357 173.76h7.6M360.8 169.96v7.6M358.06 171.03l5.47 5.47M358.06 176.5l5.47 -5.47" stroke="#DDCC77" stroke-width="1.25" fill="none"/><path d="M378.75 173.76h7.6M382.55 169.96v7.6M379.81 171.03l5.47 5.47M379.81 176.5l5.47 -5.47" stroke="#DDCC77" stroke-width="1.25" fill="none"/><path d="M400.5 176.85h7.6M404.3 173.05v7.6M401.56 174.12l5.47 5.47M401.56 179.59l5.47 -5.47" stroke="#DDCC77" stroke-width="1.25" fill="none"/><path d="M422.25 179.21h7.6M426.05 175.41v7.6M423.31 176.47l5.47 5.47M423.31 181.94l5.47 -5.47" stroke="#DDCC77" stroke-width="1.25" fill="none"/><path d="M444 182.3h7.6M447.8 178.5v7.6M445.06 179.56l5.47 5.47M445.06 185.04l5.47 -5.47" stroke="#DDCC77" stroke-width="1.25" fill="none"/><path d="M465.75 185.24h7.6M469.55 181.44v7.6M466.81 182.51l5.47 5.47M466.81 187.98l5.47 -5.47" stroke="#DDCC77" stroke-width="1.25" fill="none"/><path d="M487.5 187.45h7.6M491.3 183.65v7.6M488.56 184.72l5.47 5.47M488.56 190.19l5.47 -5.47" stroke="#DDCC77" stroke-width="1.25" fill="none"/><path d="M509.25 189.66h7.6M513.05 185.86v7.6M510.31 186.92l5.47 5.47M510.31 192.4l5.47 -5.47" stroke="#DDCC77" stroke-width="1.25" fill="none"/></g>
<g clip-path="url(#c2)"><polyline points="317.3,54.38 339.05,102.37 360.8,134.17 382.55,160.81 404.3,167.73 426.05,171.26 447.8,174.2 469.55,175.09 491.3,175.53 513.05,172.88" fill="none" stroke="#CC6677" stroke-width="1.3" stroke-dasharray="4.6 2.8"/><path d="M317.3 52.91V55.86M314.2 52.91h6.2M314.2 55.86h6.2M339.05 94.86V109.88M335.95 94.86h6.2M335.95 109.88h6.2M360.8 127.25V141.08M357.7 127.25h6.2M357.7 141.08h6.2M382.55 152.86V168.76M379.45 152.86h6.2M379.45 168.76h6.2M404.3 163.31V172.14M401.2 163.31h6.2M401.2 172.14h6.2M426.05 168.02V174.5M422.95 168.02h6.2M422.95 174.5h6.2M447.8 170.52V177.88M444.7 170.52h6.2M444.7 177.88h6.2M469.55 171.41V178.77M466.45 171.41h6.2M466.45 178.77h6.2M491.3 171.85V179.21M488.2 171.85h6.2M488.2 179.21h6.2M513.05 168.46V177.3M509.95 168.46h6.2M509.95 177.3h6.2" stroke="#CC6677" stroke-width="1.15" fill="none"/><path d="M313.5 54.38h7.6M317.3 50.58v7.6M314.56 51.65l5.47 5.47M314.56 57.12l5.47 -5.47" stroke="#CC6677" stroke-width="1.25" fill="none"/><path d="M335.25 102.37h7.6M339.05 98.57v7.6M336.31 99.63l5.47 5.47M336.31 105.11l5.47 -5.47" stroke="#CC6677" stroke-width="1.25" fill="none"/><path d="M357 134.17h7.6M360.8 130.37v7.6M358.06 131.43l5.47 5.47M358.06 136.9l5.47 -5.47" stroke="#CC6677" stroke-width="1.25" fill="none"/><path d="M378.75 160.81h7.6M382.55 157.01v7.6M379.81 158.07l5.47 5.47M379.81 163.54l5.47 -5.47" stroke="#CC6677" stroke-width="1.25" fill="none"/><path d="M400.5 167.73h7.6M404.3 163.93v7.6M401.56 164.99l5.47 5.47M401.56 170.46l5.47 -5.47" stroke="#CC6677" stroke-width="1.25" fill="none"/><path d="M422.25 171.26h7.6M426.05 167.46v7.6M423.31 168.52l5.47 5.47M423.31 174l5.47 -5.47" stroke="#CC6677" stroke-width="1.25" fill="none"/><path d="M444 174.2h7.6M447.8 170.4v7.6M445.06 171.47l5.47 5.47M445.06 176.94l5.47 -5.47" stroke="#CC6677" stroke-width="1.25" fill="none"/><path d="M465.75 175.09h7.6M469.55 171.29v7.6M466.81 172.35l5.47 5.47M466.81 177.82l5.47 -5.47" stroke="#CC6677" stroke-width="1.25" fill="none"/><path d="M487.5 175.53h7.6M491.3 171.73v7.6M488.56 172.79l5.47 5.47M488.56 178.26l5.47 -5.47" stroke="#CC6677" stroke-width="1.25" fill="none"/><path d="M509.25 172.88h7.6M513.05 169.08v7.6M510.31 170.14l5.47 5.47M510.31 175.62l5.47 -5.47" stroke="#CC6677" stroke-width="1.25" fill="none"/></g>
<g clip-path="url(#c2)"><polyline points="317.3,185.39 339.05,178.03 360.8,173.76 382.55,173.76 404.3,176.85 426.05,179.21 447.8,182.3 469.55,185.24 491.3,187.45 513.05,189.66" fill="none" stroke="#AA4499" stroke-width="1.3" stroke-dasharray="4.6 2.8"/><path d="M314.94 183.04l4.71 4.71M314.94 187.75l4.71 -4.71" stroke="#AA4499" stroke-width="1.25" fill="none"/><path d="M336.69 175.68l4.71 4.71M336.69 180.39l4.71 -4.71" stroke="#AA4499" stroke-width="1.25" fill="none"/><path d="M358.44 171.41l4.71 4.71M358.44 176.12l4.71 -4.71" stroke="#AA4499" stroke-width="1.25" fill="none"/><path d="M380.19 171.41l4.71 4.71M380.19 176.12l4.71 -4.71" stroke="#AA4499" stroke-width="1.25" fill="none"/><path d="M401.94 174.5l4.71 4.71M401.94 179.21l4.71 -4.71" stroke="#AA4499" stroke-width="1.25" fill="none"/><path d="M423.69 176.85l4.71 4.71M423.69 181.56l4.71 -4.71" stroke="#AA4499" stroke-width="1.25" fill="none"/><path d="M445.44 179.94l4.71 4.71M445.44 184.66l4.71 -4.71" stroke="#AA4499" stroke-width="1.25" fill="none"/><path d="M467.19 182.89l4.71 4.71M467.19 187.6l4.71 -4.71" stroke="#AA4499" stroke-width="1.25" fill="none"/><path d="M488.94 185.1l4.71 4.71M488.94 189.81l4.71 -4.71" stroke="#AA4499" stroke-width="1.25" fill="none"/><path d="M510.69 187.3l4.71 4.71M510.69 192.02l4.71 -4.71" stroke="#AA4499" stroke-width="1.25" fill="none"/></g>
<g clip-path="url(#c2)"><polyline points="317.3,99.13 339.05,80.73 360.8,71.9 382.55,77.2 404.3,87.36 426.05,98.25 447.8,106.05 469.55,118.56 491.3,128.72 513.05,137.55" fill="none" stroke="#44AA99" stroke-width="1.3"/><path d="M317.3 92.36V105.9M314.2 92.36h6.2M314.2 105.9h6.2M339.05 74.4V87.06M335.95 74.4h6.2M335.95 87.06h6.2M360.8 68.96V74.84M357.7 68.96h6.2M357.7 74.84h6.2M382.55 74.26V80.14M379.45 74.26h6.2M379.45 80.14h6.2M404.3 83.68V91.04M401.2 83.68h6.2M401.2 91.04h6.2M426.05 95.3V101.19M422.95 95.3h6.2M422.95 101.19h6.2M447.8 103.11V108.99M444.7 103.11h6.2M444.7 108.99h6.2M469.55 110.76V126.36M466.45 110.76h6.2M466.45 126.36h6.2M491.3 124.3V133.14M488.2 124.3h6.2M488.2 133.14h6.2M513.05 133.14V141.97M509.95 133.14h6.2M509.95 141.97h6.2" stroke="#44AA99" stroke-width="1.15" fill="none"/><circle cx="317.3" cy="99.13" r="3.0" fill="none" stroke="#44AA99" stroke-width="1.25"/><circle cx="339.05" cy="80.73" r="3.0" fill="none" stroke="#44AA99" stroke-width="1.25"/><circle cx="360.8" cy="71.9" r="3.0" fill="none" stroke="#44AA99" stroke-width="1.25"/><circle cx="382.55" cy="77.2" r="3.0" fill="none" stroke="#44AA99" stroke-width="1.25"/><circle cx="404.3" cy="87.36" r="3.0" fill="none" stroke="#44AA99" stroke-width="1.25"/><circle cx="426.05" cy="98.25" r="3.0" fill="none" stroke="#44AA99" stroke-width="1.25"/><circle cx="447.8" cy="106.05" r="3.0" fill="none" stroke="#44AA99" stroke-width="1.25"/><circle cx="469.55" cy="118.56" r="3.0" fill="none" stroke="#44AA99" stroke-width="1.25"/><circle cx="491.3" cy="128.72" r="3.0" fill="none" stroke="#44AA99" stroke-width="1.25"/><circle cx="513.05" cy="137.55" r="3.0" fill="none" stroke="#44AA99" stroke-width="1.25"/></g>
<g clip-path="url(#c2)"><polyline points="317.3,196.58 339.05,197.46 360.8,195.4 382.55,192.31 404.3,187.75 426.05,184.8 447.8,185.98 469.55,188.04 491.3,189.81 513.05,190.25" fill="none" stroke="#332288" stroke-width="1.3"/><path d="M317.3 193.05V200.11M314.2 193.05h6.2M314.2 200.11h6.2M339.05 193.49V201.44M335.95 193.49h6.2M335.95 201.44h6.2M360.8 191.28V199.52M357.7 191.28h6.2M357.7 199.52h6.2M382.55 187.89V196.73M379.45 187.89h6.2M379.45 196.73h6.2M404.3 182.59V192.9M401.2 182.59h6.2M401.2 192.9h6.2M426.05 179.65V189.95M422.95 179.65h6.2M422.95 189.95h6.2M447.8 180.83V191.13M444.7 180.83h6.2M444.7 191.13h6.2M469.55 183.62V192.46M466.45 183.62h6.2M466.45 192.46h6.2M491.3 186.13V193.49M488.2 186.13h6.2M488.2 193.49h6.2M513.05 187.01V193.49M509.95 187.01h6.2M509.95 193.49h6.2" stroke="#332288" stroke-width="1.15" fill="none"/><circle cx="317.3" cy="196.58" r="3.0" fill="none" stroke="#332288" stroke-width="1.25"/><circle cx="339.05" cy="197.46" r="3.0" fill="none" stroke="#332288" stroke-width="1.25"/><circle cx="360.8" cy="195.4" r="3.0" fill="none" stroke="#332288" stroke-width="1.25"/><circle cx="382.55" cy="192.31" r="3.0" fill="none" stroke="#332288" stroke-width="1.25"/><circle cx="404.3" cy="187.75" r="3.0" fill="none" stroke="#332288" stroke-width="1.25"/><circle cx="426.05" cy="184.8" r="3.0" fill="none" stroke="#332288" stroke-width="1.25"/><circle cx="447.8" cy="185.98" r="3.0" fill="none" stroke="#332288" stroke-width="1.25"/><circle cx="469.55" cy="188.04" r="3.0" fill="none" stroke="#332288" stroke-width="1.25"/><circle cx="491.3" cy="189.81" r="3.0" fill="none" stroke="#332288" stroke-width="1.25"/><circle cx="513.05" cy="190.25" r="3.0" fill="none" stroke="#332288" stroke-width="1.25"/></g>
<g clip-path="url(#c2)"><polyline points="317.3,189.81 339.05,190.25 360.8,181.56 382.55,176.85 404.3,177.15 426.05,178.47 447.8,181.42 469.55,183.48 491.3,184.8 513.05,185.98" fill="none" stroke="#88CCEE" stroke-width="1.3"/><path d="M317.3 175.09V204.53M314.2 175.09h6.2M314.2 204.53h6.2M339.05 184.66V195.84M335.95 184.66h6.2M335.95 195.84h6.2M360.8 175.68V187.45M357.7 175.68h6.2M357.7 187.45h6.2M382.55 169.49V184.21M379.45 169.49h6.2M379.45 184.21h6.2M404.3 171.26V183.04M401.2 171.26h6.2M401.2 183.04h6.2M426.05 174.06V182.89M422.95 174.06h6.2M422.95 182.89h6.2M447.8 177V185.83M444.7 177h6.2M444.7 185.83h6.2M469.55 179.8V187.16M466.45 179.8h6.2M466.45 187.16h6.2M491.3 181.86V187.75M488.2 181.86h6.2M488.2 187.75h6.2M513.05 183.04V188.92M509.95 183.04h6.2M509.95 188.92h6.2" stroke="#88CCEE" stroke-width="1.15" fill="none"/><circle cx="317.3" cy="189.81" r="3.0" fill="none" stroke="#88CCEE" stroke-width="1.25"/><circle cx="339.05" cy="190.25" r="3.0" fill="none" stroke="#88CCEE" stroke-width="1.25"/><circle cx="360.8" cy="181.56" r="3.0" fill="none" stroke="#88CCEE" stroke-width="1.25"/><circle cx="382.55" cy="176.85" r="3.0" fill="none" stroke="#88CCEE" stroke-width="1.25"/><circle cx="404.3" cy="177.15" r="3.0" fill="none" stroke="#88CCEE" stroke-width="1.25"/><circle cx="426.05" cy="178.47" r="3.0" fill="none" stroke="#88CCEE" stroke-width="1.25"/><circle cx="447.8" cy="181.42" r="3.0" fill="none" stroke="#88CCEE" stroke-width="1.25"/><circle cx="469.55" cy="183.48" r="3.0" fill="none" stroke="#88CCEE" stroke-width="1.25"/><circle cx="491.3" cy="184.8" r="3.0" fill="none" stroke="#88CCEE" stroke-width="1.25"/><circle cx="513.05" cy="185.98" r="3.0" fill="none" stroke="#88CCEE" stroke-width="1.25"/></g>
<text x="315.1" y="220.6" text-anchor="middle" font-family='"Liberation Sans",Arial,Helvetica,sans-serif' font-size="11.1" fill="#111" stroke="#111" stroke-width="0.2">0.1</text>
<text x="358.6" y="220.6" text-anchor="middle" font-family='"Liberation Sans",Arial,Helvetica,sans-serif' font-size="11.1" fill="#111" stroke="#111" stroke-width="0.2">0.3</text>
<text x="402.1" y="220.6" text-anchor="middle" font-family='"Liberation Sans",Arial,Helvetica,sans-serif' font-size="11.1" fill="#111" stroke="#111" stroke-width="0.2">0.5</text>
<text x="445.6" y="220.6" text-anchor="middle" font-family='"Liberation Sans",Arial,Helvetica,sans-serif' font-size="11.1" fill="#111" stroke="#111" stroke-width="0.2">0.7</text>
<text x="489.1" y="220.6" text-anchor="middle" font-family='"Liberation Sans",Arial,Helvetica,sans-serif' font-size="11.1" fill="#111" stroke="#111" stroke-width="0.2">0.9</text>
<text x="305.6" y="204.67" text-anchor="end" font-family='"Liberation Sans",Arial,Helvetica,sans-serif' font-size="11.1" fill="#111" stroke="#111" stroke-width="0.2">0</text>
<text x="303.5" y="175.23" text-anchor="end" font-family='"Liberation Sans",Arial,Helvetica,sans-serif' font-size="11.1" fill="#111" stroke="#111" stroke-width="0.2">0.2</text>
<text x="303.5" y="145.79" text-anchor="end" font-family='"Liberation Sans",Arial,Helvetica,sans-serif' font-size="11.1" fill="#111" stroke="#111" stroke-width="0.2">0.4</text>
<text x="303.5" y="116.35" text-anchor="end" font-family='"Liberation Sans",Arial,Helvetica,sans-serif' font-size="11.1" fill="#111" stroke="#111" stroke-width="0.2">0.6</text>
<text x="303.5" y="86.91" text-anchor="end" font-family='"Liberation Sans",Arial,Helvetica,sans-serif' font-size="11.1" fill="#111" stroke="#111" stroke-width="0.2">0.8</text>
<text x="305.6" y="57.47" text-anchor="end" font-family='"Liberation Sans",Arial,Helvetica,sans-serif' font-size="11.1" fill="#111" stroke="#111" stroke-width="0.2">1</text>
<text x="415" y="237.5" text-anchor="middle" font-family='"Liberation Serif","Times New Roman",serif' font-size="12.2" textLength="78.2" lengthAdjust="spacingAndGlyphs" fill="#111" stroke="#111" stroke-width="0.25">Factor Density</text>
<text transform="translate(278 128.2) rotate(-90)" text-anchor="middle" font-family='"Liberation Serif","Times New Roman",serif' font-size="12.3" textLength="84.5" lengthAdjust="spacingAndGlyphs" fill="#111" stroke="#111" stroke-width="0.25">Frobenius Error</text>
<text x="414.8" y="267.3" text-anchor="middle" font-family='"Liberation Serif","Times New Roman",serif' font-size="23.5" font-weight="bold" letter-spacing="0.4" fill="#111">(b)</text>
<clipPath id="c3"><rect x="563.7" y="46" width="223.7" height="170"/></clipPath>
<path d="M571.8 215.4v-2.4M571.8 52v2.4M617.88 215.4v-2.4M617.88 52v2.4M663.96 215.4v-2.4M663.96 52v2.4M710.04 215.4v-2.4M710.04 52v2.4M756.12 215.4v-2.4M756.12 52v2.4M567.7 205.2h2.4M783.4 205.2h-2.4M567.7 172.92h2.4M783.4 172.92h-2.4M567.7 140.64h2.4M783.4 140.64h-2.4M567.7 108.36h2.4M783.4 108.36h-2.4M567.7 76.08h2.4M783.4 76.08h-2.4" stroke="#111" stroke-width="0.9" fill="none"/>
<rect x="567.7" y="52" width="215.7" height="163.4" fill="none" stroke="#111" stroke-width="1.15"/>
<g clip-path="url(#c3)"><polyline points="571.8,187.61 594.84,181.8 617.88,178.89 640.92,178.25 663.96,178.25 687,178.89 710.04,179.38 733.08,180.34 756.12,181.15 779.16,182.44" fill="none" stroke="#117733" stroke-width="1.15" stroke-dasharray="3.8 2.4"/><path d="M571.8 186.64V188.58M569.4 186.64h4.8M569.4 188.58h4.8M594.84 180.83V182.77M592.44 180.83h4.8M592.44 182.77h4.8M617.88 177.92V179.86M615.48 177.92h4.8M615.48 179.86h4.8M640.92 177.28V179.21M638.52 177.28h4.8M638.52 179.21h4.8M663.96 177.28V179.21M661.56 177.28h4.8M661.56 179.21h4.8M687 177.92V179.86M684.6 177.92h4.8M684.6 179.86h4.8M710.04 178.41V180.34M707.64 178.41h4.8M707.64 180.34h4.8M733.08 179.38V181.31M730.68 179.38h4.8M730.68 181.31h4.8M756.12 180.18V182.12M753.72 180.18h4.8M753.72 182.12h4.8M779.16 181.47V183.41M776.76 181.47h4.8M776.76 183.41h4.8" stroke="#117733" stroke-width="1.0" fill="none"/><path d="M568.6 187.61h6.4M571.8 184.41v6.4M569.5 185.3l4.61 4.61M569.5 189.91l4.61 -4.61" stroke="#117733" stroke-width="1.1" fill="none"/><path d="M591.64 181.8h6.4M594.84 178.6v6.4M592.54 179.49l4.61 4.61M592.54 184.1l4.61 -4.61" stroke="#117733" stroke-width="1.1" fill="none"/><path d="M614.68 178.89h6.4M617.88 175.69v6.4M615.58 176.59l4.61 4.61M615.58 181.2l4.61 -4.61" stroke="#117733" stroke-width="1.1" fill="none"/><path d="M637.72 178.25h6.4M640.92 175.05v6.4M638.62 175.94l4.61 4.61M638.62 180.55l4.61 -4.61" stroke="#117733" stroke-width="1.1" fill="none"/><path d="M660.76 178.25h6.4M663.96 175.05v6.4M661.66 175.94l4.61 4.61M661.66 180.55l4.61 -4.61" stroke="#117733" stroke-width="1.1" fill="none"/><path d="M683.8 178.89h6.4M687 175.69v6.4M684.7 176.59l4.61 4.61M684.7 181.2l4.61 -4.61" stroke="#117733" stroke-width="1.1" fill="none"/><path d="M706.84 179.38h6.4M710.04 176.18v6.4M707.74 177.07l4.61 4.61M707.74 181.68l4.61 -4.61" stroke="#117733" stroke-width="1.1" fill="none"/><path d="M729.88 180.34h6.4M733.08 177.14v6.4M730.78 178.04l4.61 4.61M730.78 182.65l4.61 -4.61" stroke="#117733" stroke-width="1.1" fill="none"/><path d="M752.92 181.15h6.4M756.12 177.95v6.4M753.82 178.85l4.61 4.61M753.82 183.46l4.61 -4.61" stroke="#117733" stroke-width="1.1" fill="none"/><path d="M775.96 182.44h6.4M779.16 179.24v6.4M776.86 180.14l4.61 4.61M776.86 184.75l4.61 -4.61" stroke="#117733" stroke-width="1.1" fill="none"/></g>
<g clip-path="url(#c3)"><polyline points="571.8,188.09 594.84,182.28 617.88,179.38 640.92,178.73 663.96,178.73 687,179.38 710.04,179.86 733.08,180.83 756.12,181.64 779.16,182.93" fill="none" stroke="#999933" stroke-width="1.15" stroke-dasharray="3.8 2.4"/><path d="M571.8 187.12V189.06M569.4 187.12h4.8M569.4 189.06h4.8M594.84 181.31V183.25M592.44 181.31h4.8M592.44 183.25h4.8M617.88 178.41V180.34M615.48 178.41h4.8M615.48 180.34h4.8M640.92 177.76V179.7M638.52 177.76h4.8M638.52 179.7h4.8M663.96 177.76V179.7M661.56 177.76h4.8M661.56 179.7h4.8M687 178.41V180.34M684.6 178.41h4.8M684.6 180.34h4.8M710.04 178.89V180.83M707.64 178.89h4.8M707.64 180.83h4.8M733.08 179.86V181.8M730.68 179.86h4.8M730.68 181.8h4.8M756.12 180.67V182.6M753.72 180.67h4.8M753.72 182.6h4.8M779.16 181.96V183.9M776.76 181.96h4.8M776.76 183.9h4.8" stroke="#999933" stroke-width="1.0" fill="none"/><path d="M568.6 188.09h6.4M571.8 184.89v6.4M569.5 185.79l4.61 4.61M569.5 190.4l4.61 -4.61" stroke="#999933" stroke-width="1.1" fill="none"/><path d="M591.64 182.28h6.4M594.84 179.08v6.4M592.54 179.98l4.61 4.61M592.54 184.59l4.61 -4.61" stroke="#999933" stroke-width="1.1" fill="none"/><path d="M614.68 179.38h6.4M617.88 176.18v6.4M615.58 177.07l4.61 4.61M615.58 181.68l4.61 -4.61" stroke="#999933" stroke-width="1.1" fill="none"/><path d="M637.72 178.73h6.4M640.92 175.53v6.4M638.62 176.43l4.61 4.61M638.62 181.03l4.61 -4.61" stroke="#999933" stroke-width="1.1" fill="none"/><path d="M660.76 178.73h6.4M663.96 175.53v6.4M661.66 176.43l4.61 4.61M661.66 181.03l4.61 -4.61" stroke="#999933" stroke-width="1.1" fill="none"/><path d="M683.8 179.38h6.4M687 176.18v6.4M684.7 177.07l4.61 4.61M684.7 181.68l4.61 -4.61" stroke="#999933" stroke-width="1.1" fill="none"/><path d="M706.84 179.86h6.4M710.04 176.66v6.4M707.74 177.56l4.61 4.61M707.74 182.16l4.61 -4.61" stroke="#999933" stroke-width="1.1" fill="none"/><path d="M729.88 180.83h6.4M733.08 177.63v6.4M730.78 178.52l4.61 4.61M730.78 183.13l4.61 -4.61" stroke="#999933" stroke-width="1.1" fill="none"/><path d="M752.92 181.64h6.4M756.12 178.44v6.4M753.82 179.33l4.61 4.61M753.82 183.94l4.61 -4.61" stroke="#999933" stroke-width="1.1" fill="none"/><path d="M775.96 182.93h6.4M779.16 179.73v6.4M776.86 180.62l4.61 4.61M776.86 185.23l4.61 -4.61" stroke="#999933" stroke-width="1.1" fill="none"/></g>
<g clip-path="url(#c3)"><polyline points="571.8,188.58 594.84,182.77 617.88,179.86 640.92,179.21 663.96,179.21 687,179.86 710.04,180.34 733.08,181.31 756.12,182.12 779.16,183.41" fill="none" stroke="#DDCC77" stroke-width="1.15" stroke-dasharray="3.8 2.4"/><path d="M571.8 187.61V189.54M569.4 187.61h4.8M569.4 189.54h4.8M594.84 181.8V183.73M592.44 181.8h4.8M592.44 183.73h4.8M617.88 178.89V180.83M615.48 178.89h4.8M615.48 180.83h4.8M640.92 178.25V180.18M638.52 178.25h4.8M638.52 180.18h4.8M663.96 178.25V180.18M661.56 178.25h4.8M661.56 180.18h4.8M687 178.89V180.83M684.6 178.89h4.8M684.6 180.83h4.8M710.04 179.38V181.31M707.64 179.38h4.8M707.64 181.31h4.8M733.08 180.34V182.28M730.68 180.34h4.8M730.68 182.28h4.8M756.12 181.15V183.09M753.72 181.15h4.8M753.72 183.09h4.8M779.16 182.44V184.38M776.76 182.44h4.8M776.76 184.38h4.8" stroke="#DDCC77" stroke-width="1.0" fill="none"/><path d="M568.6 188.58h6.4M571.8 185.38v6.4M569.5 186.27l4.61 4.61M569.5 190.88l4.61 -4.61" stroke="#DDCC77" stroke-width="1.1" fill="none"/><path d="M591.64 182.77h6.4M594.84 179.57v6.4M592.54 180.46l4.61 4.61M592.54 185.07l4.61 -4.61" stroke="#DDCC77" stroke-width="1.1" fill="none"/><path d="M614.68 179.86h6.4M617.88 176.66v6.4M615.58 177.56l4.61 4.61M615.58 182.16l4.61 -4.61" stroke="#DDCC77" stroke-width="1.1" fill="none"/><path d="M637.72 179.21h6.4M640.92 176.01v6.4M638.62 176.91l4.61 4.61M638.62 181.52l4.61 -4.61" stroke="#DDCC77" stroke-width="1.1" fill="none"/><path d="M660.76 179.21h6.4M663.96 176.01v6.4M661.66 176.91l4.61 4.61M661.66 181.52l4.61 -4.61" stroke="#DDCC77" stroke-width="1.1" fill="none"/><path d="M683.8 179.86h6.4M687 176.66v6.4M684.7 177.56l4.61 4.61M684.7 182.16l4.61 -4.61" stroke="#DDCC77" stroke-width="1.1" fill="none"/><path d="M706.84 180.34h6.4M710.04 177.14v6.4M707.74 178.04l4.61 4.61M707.74 182.65l4.61 -4.61" stroke="#DDCC77" stroke-width="1.1" fill="none"/><path d="M729.88 181.31h6.4M733.08 178.11v6.4M730.78 179.01l4.61 4.61M730.78 183.62l4.61 -4.61" stroke="#DDCC77" stroke-width="1.1" fill="none"/><path d="M752.92 182.12h6.4M756.12 178.92v6.4M753.82 179.82l4.61 4.61M753.82 184.42l4.61 -4.61" stroke="#DDCC77" stroke-width="1.1" fill="none"/><path d="M775.96 183.41h6.4M779.16 180.21v6.4M776.86 181.11l4.61 4.61M776.86 185.72l4.61 -4.61" stroke="#DDCC77" stroke-width="1.1" fill="none"/></g>
<g clip-path="url(#c3)"><polyline points="571.8,187.45 594.84,181.31 617.88,178.08 640.92,176.47 663.96,172.44 687,169.37 710.04,162.75 733.08,161.94 756.12,161.3 779.16,160.49" fill="none" stroke="#CC6677" stroke-width="1.15" stroke-dasharray="3.8 2.4"/><path d="M571.8 184.22V190.67M569.4 184.22h4.8M569.4 190.67h4.8M594.84 178.08V184.54M592.44 178.08h4.8M592.44 184.54h4.8M617.88 174.86V181.31M615.48 174.86h4.8M615.48 181.31h4.8M640.92 173.24V179.7M638.52 173.24h4.8M638.52 179.7h4.8M663.96 168.4V176.47M661.56 168.4h4.8M661.56 176.47h4.8M687 165.33V173.4M684.6 165.33h4.8M684.6 173.4h4.8M710.04 160.33V165.17M707.64 160.33h4.8M707.64 165.17h4.8M733.08 159.52V164.37M730.68 159.52h4.8M730.68 164.37h4.8M756.12 159.36V163.24M753.72 159.36h4.8M753.72 163.24h4.8M779.16 158.07V162.91M776.76 158.07h4.8M776.76 162.91h4.8" stroke="#CC6677" stroke-width="1.0" fill="none"/><path d="M568.6 187.45h6.4M571.8 184.25v6.4M569.5 185.14l4.61 4.61M569.5 189.75l4.61 -4.61" stroke="#CC6677" stroke-width="1.1" fill="none"/><path d="M591.64 181.31h6.4M594.84 178.11v6.4M592.54 179.01l4.61 4.61M592.54 183.62l4.61 -4.61" stroke="#CC6677" stroke-width="1.1" fill="none"/><path d="M614.68 178.08h6.4M617.88 174.88v6.4M615.58 175.78l4.61 4.61M615.58 180.39l4.61 -4.61" stroke="#CC6677" stroke-width="1.1" fill="none"/><path d="M637.72 176.47h6.4M640.92 173.27v6.4M638.62 174.17l4.61 4.61M638.62 178.77l4.61 -4.61" stroke="#CC6677" stroke-width="1.1" fill="none"/><path d="M660.76 172.44h6.4M663.96 169.24v6.4M661.66 170.13l4.61 4.61M661.66 174.74l4.61 -4.61" stroke="#CC6677" stroke-width="1.1" fill="none"/><path d="M683.8 169.37h6.4M687 166.17v6.4M684.7 167.07l4.61 4.61M684.7 171.67l4.61 -4.61" stroke="#CC6677" stroke-width="1.1" fill="none"/><path d="M706.84 162.75h6.4M710.04 159.55v6.4M707.74 160.45l4.61 4.61M707.74 165.06l4.61 -4.61" stroke="#CC6677" stroke-width="1.1" fill="none"/><path d="M729.88 161.94h6.4M733.08 158.74v6.4M730.78 159.64l4.61 4.61M730.78 164.25l4.61 -4.61" stroke="#CC6677" stroke-width="1.1" fill="none"/><path d="M752.92 161.3h6.4M756.12 158.1v6.4M753.82 159l4.61 4.61M753.82 163.6l4.61 -4.61" stroke="#CC6677" stroke-width="1.1" fill="none"/><path d="M775.96 160.49h6.4M779.16 157.29v6.4M776.86 158.19l4.61 4.61M776.86 162.8l4.61 -4.61" stroke="#CC6677" stroke-width="1.1" fill="none"/></g>
<g clip-path="url(#c3)"><polyline points="571.8,188.25 594.84,182.44 617.88,179.54 640.92,178.89 663.96,178.89 687,179.54 710.04,180.02 733.08,180.99 756.12,181.8 779.16,183.09" fill="none" stroke="#AA4499" stroke-width="1.15" stroke-dasharray="3.8 2.4"/><path d="M569.82 186.27l3.97 3.97M569.82 190.24l3.97 -3.97" stroke="#AA4499" stroke-width="1.1" fill="none"/><path d="M592.86 180.46l3.97 3.97M592.86 184.43l3.97 -3.97" stroke="#AA4499" stroke-width="1.1" fill="none"/><path d="M615.9 177.55l3.97 3.97M615.9 181.52l3.97 -3.97" stroke="#AA4499" stroke-width="1.1" fill="none"/><path d="M638.94 176.91l3.97 3.97M638.94 180.88l3.97 -3.97" stroke="#AA4499" stroke-width="1.1" fill="none"/><path d="M661.98 176.91l3.97 3.97M661.98 180.88l3.97 -3.97" stroke="#AA4499" stroke-width="1.1" fill="none"/><path d="M685.02 177.55l3.97 3.97M685.02 181.52l3.97 -3.97" stroke="#AA4499" stroke-width="1.1" fill="none"/><path d="M708.06 178.04l3.97 3.97M708.06 182.01l3.97 -3.97" stroke="#AA4499" stroke-width="1.1" fill="none"/><path d="M731.1 179.01l3.97 3.97M731.1 182.97l3.97 -3.97" stroke="#AA4499" stroke-width="1.1" fill="none"/><path d="M754.14 179.81l3.97 3.97M754.14 183.78l3.97 -3.97" stroke="#AA4499" stroke-width="1.1" fill="none"/><path d="M777.18 181.1l3.97 3.97M777.18 185.07l3.97 -3.97" stroke="#AA4499" stroke-width="1.1" fill="none"/></g>
<g clip-path="url(#c3)"><polyline points="571.8,56.55 594.84,62.85 617.88,68.82 640.92,76.4 663.96,83.02 687,87.22 710.04,91.25 733.08,95.77 756.12,100.13 779.16,101.74" fill="none" stroke="#44AA99" stroke-width="1.15"/><path d="M571.8 51.71V61.39M569.4 51.71h4.8M569.4 61.39h4.8M594.84 60.91V64.78M592.44 60.91h4.8M592.44 64.78h4.8M617.88 66.88V70.75M615.48 66.88h4.8M615.48 70.75h4.8M640.92 74.47V78.34M638.52 74.47h4.8M638.52 78.34h4.8M663.96 78.99V87.06M661.56 78.99h4.8M661.56 87.06h4.8M687 84.31V90.12M684.6 84.31h4.8M684.6 90.12h4.8M710.04 86.41V96.09M707.64 86.41h4.8M707.64 96.09h4.8M733.08 92.87V98.68M730.68 92.87h4.8M730.68 98.68h4.8M756.12 98.19V102.07M753.72 98.19h4.8M753.72 102.07h4.8M779.16 100.13V103.36M776.76 100.13h4.8M776.76 103.36h4.8" stroke="#44AA99" stroke-width="1.0" fill="none"/><circle cx="571.8" cy="56.55" r="2.35" fill="none" stroke="#44AA99" stroke-width="1.1"/><circle cx="594.84" cy="62.85" r="2.35" fill="none" stroke="#44AA99" stroke-width="1.1"/><circle cx="617.88" cy="68.82" r="2.35" fill="none" stroke="#44AA99" stroke-width="1.1"/><circle cx="640.92" cy="76.4" r="2.35" fill="none" stroke="#44AA99" stroke-width="1.1"/><circle cx="663.96" cy="83.02" r="2.35" fill="none" stroke="#44AA99" stroke-width="1.1"/><circle cx="687" cy="87.22" r="2.35" fill="none" stroke="#44AA99" stroke-width="1.1"/><circle cx="710.04" cy="91.25" r="2.35" fill="none" stroke="#44AA99" stroke-width="1.1"/><circle cx="733.08" cy="95.77" r="2.35" fill="none" stroke="#44AA99" stroke-width="1.1"/><circle cx="756.12" cy="100.13" r="2.35" fill="none" stroke="#44AA99" stroke-width="1.1"/><circle cx="779.16" cy="101.74" r="2.35" fill="none" stroke="#44AA99" stroke-width="1.1"/></g>
<g clip-path="url(#c3)"><polyline points="571.8,198.58 594.84,187.45 617.88,190.67 640.92,192.61 663.96,186.32 687,191.16 710.04,191.16 733.08,191.8 756.12,192.61 779.16,194.71" fill="none" stroke="#332288" stroke-width="1.15"/><path d="M571.8 183.25V213.92M569.4 183.25h4.8M569.4 213.92h4.8M594.84 174.86V200.04M592.44 174.86h4.8M592.44 200.04h4.8M617.88 180.34V201M615.48 180.34h4.8M615.48 201h4.8M640.92 181.47V203.75M638.52 181.47h4.8M638.52 203.75h4.8M663.96 176.95V195.68M661.56 176.95h4.8M661.56 195.68h4.8M687 183.9V198.42M684.6 183.9h4.8M684.6 198.42h4.8M710.04 186.32V196M707.64 186.32h4.8M707.64 196h4.8M733.08 186.96V196.65M730.68 186.96h4.8M730.68 196.65h4.8M756.12 186.96V198.26M753.72 186.96h4.8M753.72 198.26h4.8M779.16 189.87V199.55M776.76 189.87h4.8M776.76 199.55h4.8" stroke="#332288" stroke-width="1.0" fill="none"/><circle cx="571.8" cy="198.58" r="2.35" fill="none" stroke="#332288" stroke-width="1.1"/><circle cx="594.84" cy="187.45" r="2.35" fill="none" stroke="#332288" stroke-width="1.1"/><circle cx="617.88" cy="190.67" r="2.35" fill="none" stroke="#332288" stroke-width="1.1"/><circle cx="640.92" cy="192.61" r="2.35" fill="none" stroke="#332288" stroke-width="1.1"/><circle cx="663.96" cy="186.32" r="2.35" fill="none" stroke="#332288" stroke-width="1.1"/><circle cx="687" cy="191.16" r="2.35" fill="none" stroke="#332288" stroke-width="1.1"/><circle cx="710.04" cy="191.16" r="2.35" fill="none" stroke="#332288" stroke-width="1.1"/><circle cx="733.08" cy="191.8" r="2.35" fill="none" stroke="#332288" stroke-width="1.1"/><circle cx="756.12" cy="192.61" r="2.35" fill="none" stroke="#332288" stroke-width="1.1"/><circle cx="779.16" cy="194.71" r="2.35" fill="none" stroke="#332288" stroke-width="1.1"/></g>
<g clip-path="url(#c3)"><polyline points="571.8,188.25 594.84,170.66 617.88,177.44 640.92,178.08 663.96,177.44 687,181.8 710.04,180.34 733.08,181.47 756.12,183.9 779.16,185.35" fill="none" stroke="#88CCEE" stroke-width="1.15"/><path d="M571.8 167.76V208.75M569.4 167.76h4.8M569.4 208.75h4.8M594.84 157.59V183.73M592.44 157.59h4.8M592.44 183.73h4.8M617.88 164.85V190.03M615.48 164.85h4.8M615.48 190.03h4.8M640.92 171.63V184.54M638.52 171.63h4.8M638.52 184.54h4.8M663.96 169.37V185.51M661.56 169.37h4.8M661.56 185.51h4.8M687 176.15V187.45M684.6 176.15h4.8M684.6 187.45h4.8M710.04 172.27V188.41M707.64 172.27h4.8M707.64 188.41h4.8M733.08 176.63V186.32M730.68 176.63h4.8M730.68 186.32h4.8M756.12 179.05V188.74M753.72 179.05h4.8M753.72 188.74h4.8M779.16 180.51V190.19M776.76 180.51h4.8M776.76 190.19h4.8" stroke="#88CCEE" stroke-width="1.0" fill="none"/><circle cx="571.8" cy="188.25" r="2.35" fill="none" stroke="#88CCEE" stroke-width="1.1"/><circle cx="594.84" cy="170.66" r="2.35" fill="none" stroke="#88CCEE" stroke-width="1.1"/><circle cx="617.88" cy="177.44" r="2.35" fill="none" stroke="#88CCEE" stroke-width="1.1"/><circle cx="640.92" cy="178.08" r="2.35" fill="none" stroke="#88CCEE" stroke-width="1.1"/><circle cx="663.96" cy="177.44" r="2.35" fill="none" stroke="#88CCEE" stroke-width="1.1"/><circle cx="687" cy="181.8" r="2.35" fill="none" stroke="#88CCEE" stroke-width="1.1"/><circle cx="710.04" cy="180.34" r="2.35" fill="none" stroke="#88CCEE" stroke-width="1.1"/><circle cx="733.08" cy="181.47" r="2.35" fill="none" stroke="#88CCEE" stroke-width="1.1"/><circle cx="756.12" cy="183.9" r="2.35" fill="none" stroke="#88CCEE" stroke-width="1.1"/><circle cx="779.16" cy="185.35" r="2.35" fill="none" stroke="#88CCEE" stroke-width="1.1"/></g>
<text x="571.1" y="229" text-anchor="middle" font-family='"Liberation Sans",Arial,Helvetica,sans-serif' font-size="10.8" fill="#111" stroke="#111" stroke-width="0.2">2</text>
<text x="617.18" y="229" text-anchor="middle" font-family='"Liberation Sans",Arial,Helvetica,sans-serif' font-size="10.8" fill="#111" stroke="#111" stroke-width="0.2">6</text>
<text x="663.26" y="229" text-anchor="middle" font-family='"Liberation Sans",Arial,Helvetica,sans-serif' font-size="10.8" fill="#111" stroke="#111" stroke-width="0.2">10</text>
<text x="709.34" y="229" text-anchor="middle" font-family='"Liberation Sans",Arial,Helvetica,sans-serif' font-size="10.8" fill="#111" stroke="#111" stroke-width="0.2">14</text>
<text x="755.42" y="229" text-anchor="middle" font-family='"Liberation Sans",Arial,Helvetica,sans-serif' font-size="10.8" fill="#111" stroke="#111" stroke-width="0.2">18</text>
<text x="563.1" y="209.07" text-anchor="end" font-family='"Liberation Sans",Arial,Helvetica,sans-serif' font-size="10.8" fill="#111" stroke="#111" stroke-width="0.2">0</text>
<text x="561.8" y="176.79" text-anchor="end" font-family='"Liberation Sans",Arial,Helvetica,sans-serif' font-size="10.8" fill="#111" stroke="#111" stroke-width="0.2">0.2</text>
<text x="561.8" y="144.51" text-anchor="end" font-family='"Liberation Sans",Arial,Helvetica,sans-serif' font-size="10.8" fill="#111" stroke="#111" stroke-width="0.2">0.4</text>
<text x="561.8" y="112.23" text-anchor="end" font-family='"Liberation Sans",Arial,Helvetica,sans-serif' font-size="10.8" fill="#111" stroke="#111" stroke-width="0.2">0.6</text>
<text x="561.8" y="79.95" text-anchor="end" font-family='"Liberation Sans",Arial,Helvetica,sans-serif' font-size="10.8" fill="#111" stroke="#111" stroke-width="0.2">0.8</text>
<text x="675.8" y="241.5" text-anchor="middle" font-family='"Liberation Serif","Times New Roman",serif' font-size="12" textLength="5.8" lengthAdjust="spacingAndGlyphs" fill="#111" stroke="#111" stroke-width="0.25">k</text>
<text transform="translate(541.6 133.7) rotate(-90)" text-anchor="middle" font-family='"Liberation Serif","Times New Roman",serif' font-size="12.1" textLength="83.2" lengthAdjust="spacingAndGlyphs" fill="#111" stroke="#111" stroke-width="0.25">Frobenius Error</text>
<text x="675.5" y="267.3" text-anchor="middle" font-family='"Liberation Serif","Times New Roman",serif' font-size="23.5" font-weight="bold" letter-spacing="0.4" fill="#111">(c)</text>
</svg>
</body></html>
